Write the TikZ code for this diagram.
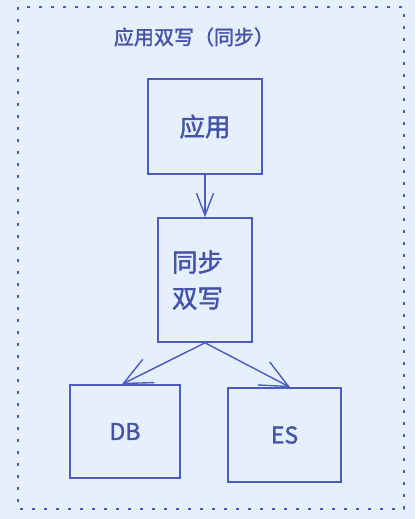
\documentclass[tikz,border=0pt]{standalone}
\usepackage{fontspec}
\usepackage{tikz}
\usetikzlibrary{arrows.meta}
\newfontfamily\cjk{Noto Sans CJK SC}[FakeBold=1.6]
\definecolor{bgblue}{HTML}{E6F0FC}
\definecolor{inkblue}{HTML}{4A5BC2}
\definecolor{txtblue}{HTML}{4553A8}

\begin{document}
\begin{tikzpicture}[x=1pt,y=-1pt,
	box/.style={draw=inkblue,line width=1.6pt,text=txtblue,font=\cjk\fontsize{25.5}{36}\selectfont,inner sep=0pt},
	sketch/.style={draw=inkblue,line width=1.4pt}]
	
	\fill[bgblue] (0,0) rectangle (415,519);
	\useasboundingbox (0,0) rectangle (415,519);
	\draw[inkblue,line width=2pt,dash pattern=on 3pt off 9pt] (18,7) rectangle (404,509);
	
	\node[text=txtblue,font=\cjk\fontsize{20}{22}\selectfont] (title) at (194, 37) {应用双写（同步）};
	
	\node[box,minimum width=114pt,minimum height=95pt] (app)  at (205, 126.5) {应用};
	\node[box,minimum height=124pt,text width=66pt,inner xsep=14pt,align=left] (sync) at (205, 280) {同步\\双写};
	\node[box,minimum width=110pt,minimum height=93pt,font=\cjk\fontsize{23}{24}\selectfont] (db)   at (125, 431.5) {DB};
	\node[box,minimum width=113pt,minimum height=94pt,font=\cjk\fontsize{23}{24}\selectfont] (es)   at (284.5, 435) {ES};
	
	\draw[sketch,-{Straight Barb[length=22pt,width=17pt]}] (app) -- (sync);
	\draw[sketch,-{Straight Barb[length=28pt,width=26pt]}] (sync.south) -- ([xshift=-3pt]db.north);
	\draw[sketch,-{Straight Barb[length=28pt,width=26pt]}] (sync.south) -- ([xshift=5.5pt]es.north);
	
\end{tikzpicture}
\end{document}
